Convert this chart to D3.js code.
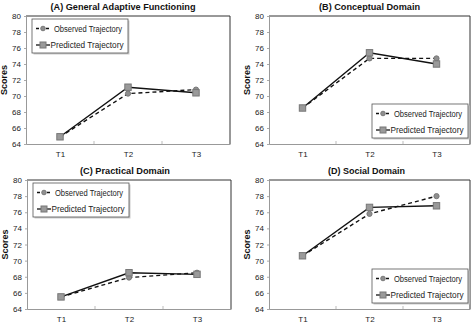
<!DOCTYPE html>
<html>
<head>
  <meta charset="utf-8">
  <script src="https://d3js.org/d3.v7.min.js"></script>
  <style>
    body { margin: 0; background: #fff; }
    svg { font-family: "Liberation Sans", Arial, sans-serif; }
    .title { font-weight: bold; font-size: 9.5px; fill: #111; }
    .ylab { font-weight: bold; font-size: 9px; fill: #111; }
    .tick text { font-size: 8px; fill: #222; }
    .legend text { font-size: 8.5px; fill: #222; }
  </style>
</head>
<body>
<script>
// Time points and y-axis ticks
var timePoints = ["T1", "T2", "T3"];
var scoreTicks = [64, 66, 68, 70, 72, 74, 76, 78, 80];

// Panel titles
var panelTitles = [
  "(A) General Adaptive Functioning",
  "(B) Conceptual Domain",
  "(C) Practical Domain",
  "(D) Social Domain"
];

// Observed and predicted mean scores per panel
var observedA = [64.9, 70.3, 70.8];
var predictedA = [64.9, 71.1, 70.4];
var observedB = [68.5, 74.7, 74.7];
var predictedB = [68.5, 75.4, 74.0];
var observedC = [65.5, 67.9, 68.5];
var predictedC = [65.5, 68.5, 68.3];
var observedD = [70.6, 75.8, 78.0];
var predictedD = [70.6, 76.6, 76.8];

var seriesNames = ["Observed Trajectory", "Predicted Trajectory"];

// Plot boxes, title placement and legend corners for each panel
var panels = [
  {box: [26, 16, 230, 144], obs: observedA, pred: predictedA, legend: "tl", titleDx: -5, titleW: 145},
  {box: [269, 16, 470, 144], obs: observedB, pred: predictedB, legend: "br", titleDx: 0, titleW: 101},
  {box: [27, 180, 231, 309], obs: observedC, pred: predictedC, legend: "tl", titleDx: -4, titleW: 90},
  {box: [269, 180, 470, 309], obs: observedD, pred: predictedD, legend: "br", titleDx: -3, titleW: 77}
];

var svg = d3.select("body").append("svg")
  .attr("width", 474)
  .attr("height", 323);

panels.forEach(function(p, i) {
  var x0 = p.box[0], y0 = p.box[1], x1 = p.box[2], y1 = p.box[3];

  var x = d3.scalePoint().domain(timePoints).range([x0, x1]).padding(0.5);
  var xb = d3.scaleBand().domain(timePoints).range([x0, x1]);
  var y = d3.scaleLinear().domain([64, 80]).range([y1, y0]);

  var g = svg.append("g");

  // frame: right and top dark, left and bottom grey
  g.append("line").attr("x1", x0).attr("x2", x1).attr("y1", y0).attr("y2", y0)
    .attr("stroke", "#333").attr("stroke-width", 1);
  g.append("line").attr("x1", x1).attr("x2", x1).attr("y1", y0).attr("y2", y1)
    .attr("stroke", "#333").attr("stroke-width", 1);

  // y axis
  var yAxis = g.append("g")
    .attr("transform", "translate(" + x0 + ",0)")
    .call(d3.axisLeft(y).tickValues(scoreTicks).tickSize(2).tickPadding(3));
  yAxis.select(".domain").attr("stroke", "#999");
  yAxis.selectAll(".tick line").attr("stroke", "#aaa");

  // x axis, ticks sit between the time points
  var xAxis = g.append("g")
    .attr("transform", "translate(0," + y1 + ")")
    .call(d3.axisBottom(x).tickSize(0).tickPadding(7));
  xAxis.select(".domain").attr("stroke", "#999");
  xb.domain().slice(1).forEach(function(t) {
    g.append("line")
      .attr("x1", xb(t)).attr("x2", xb(t))
      .attr("y1", y1 - 3).attr("y2", y1)
      .attr("stroke", "#bbb");
  });

  // title (condensed face) and y label
  g.append("text").attr("class", "title")
    .attr("x", (x0 + x1) / 2 + p.titleDx).attr("y", y0 - 6.5)
    .attr("text-anchor", "middle")
    .attr("textLength", p.titleW)
    .attr("lengthAdjust", "spacingAndGlyphs")
    .text(panelTitles[i]);

  g.append("text").attr("class", "ylab")
    .attr("transform", "translate(" + (x0 - 19) + "," + ((y0 + y1) / 2) + ") rotate(-90)")
    .attr("text-anchor", "middle")
    .text("Scores");

  var line = d3.line()
    .x(function(d, j) { return x(timePoints[j]); })
    .y(function(d) { return y(d); });

  // observed: dashed with circles
  g.append("path").datum(p.obs)
    .attr("d", line).attr("fill", "none")
    .attr("stroke", "#111").attr("stroke-width", 1.4)
    .attr("stroke-dasharray", "4,3");
  // predicted: solid with squares
  g.append("path").datum(p.pred)
    .attr("d", line).attr("fill", "none")
    .attr("stroke", "#111").attr("stroke-width", 1.4);

  g.selectAll(".obs").data(p.obs).enter().append("circle")
    .attr("cx", function(d, j) { return x(timePoints[j]); })
    .attr("cy", function(d) { return y(d); })
    .attr("r", 2.6)
    .attr("fill", "#8f8f8f").attr("stroke", "#7a7a7a");

  g.selectAll(".pred").data(p.pred).enter().append("rect")
    .attr("x", function(d, j) { return x(timePoints[j]) - 3.2; })
    .attr("y", function(d) { return y(d) - 3.2; })
    .attr("width", 6.4).attr("height", 6.4)
    .attr("fill", "#9a9a9a").attr("stroke", "#777");

  // legend
  var lw = 96, lh = 34;
  var lx = p.legend === "tl" ? x0 + 6 : x1 - lw - 2;
  var ly = p.legend === "tl" ? y0 + 3 : y1 - lh - 6;
  var lg = g.append("g").attr("class", "legend")
    .attr("transform", "translate(" + lx + "," + ly + ")");
  lg.append("rect").attr("x", 1.5).attr("y", 1.5).attr("width", lw).attr("height", lh)
    .attr("fill", "#ccc");
  lg.append("rect").attr("width", lw).attr("height", lh)
    .attr("fill", "#fff").attr("stroke", "#555").attr("stroke-width", 0.8);

  seriesNames.forEach(function(name, k) {
    var ry = 9.5 + k * 16.5;
    lg.append("line").attr("x1", 4).attr("x2", 18).attr("y1", ry).attr("y2", ry)
      .attr("stroke", "#111").attr("stroke-width", 1.3)
      .attr("stroke-dasharray", k === 0 ? "3,2" : null);
    if (k === 0) {
      lg.append("circle").attr("cx", 11).attr("cy", ry).attr("r", 2.3)
        .attr("fill", "#8f8f8f").attr("stroke", "#7a7a7a");
    } else {
      lg.append("rect").attr("x", 8).attr("y", ry - 3).attr("width", 6).attr("height", 6)
        .attr("fill", "#9a9a9a").attr("stroke", "#777");
    }
    lg.append("text").attr("x", k === 0 ? 22 : 18.5).attr("y", ry + 3)
      .attr("textLength", k === 0 ? 68 : 73)
      .attr("lengthAdjust", "spacingAndGlyphs")
      .text(name);
  });
});
</script>
</body>
</html>
